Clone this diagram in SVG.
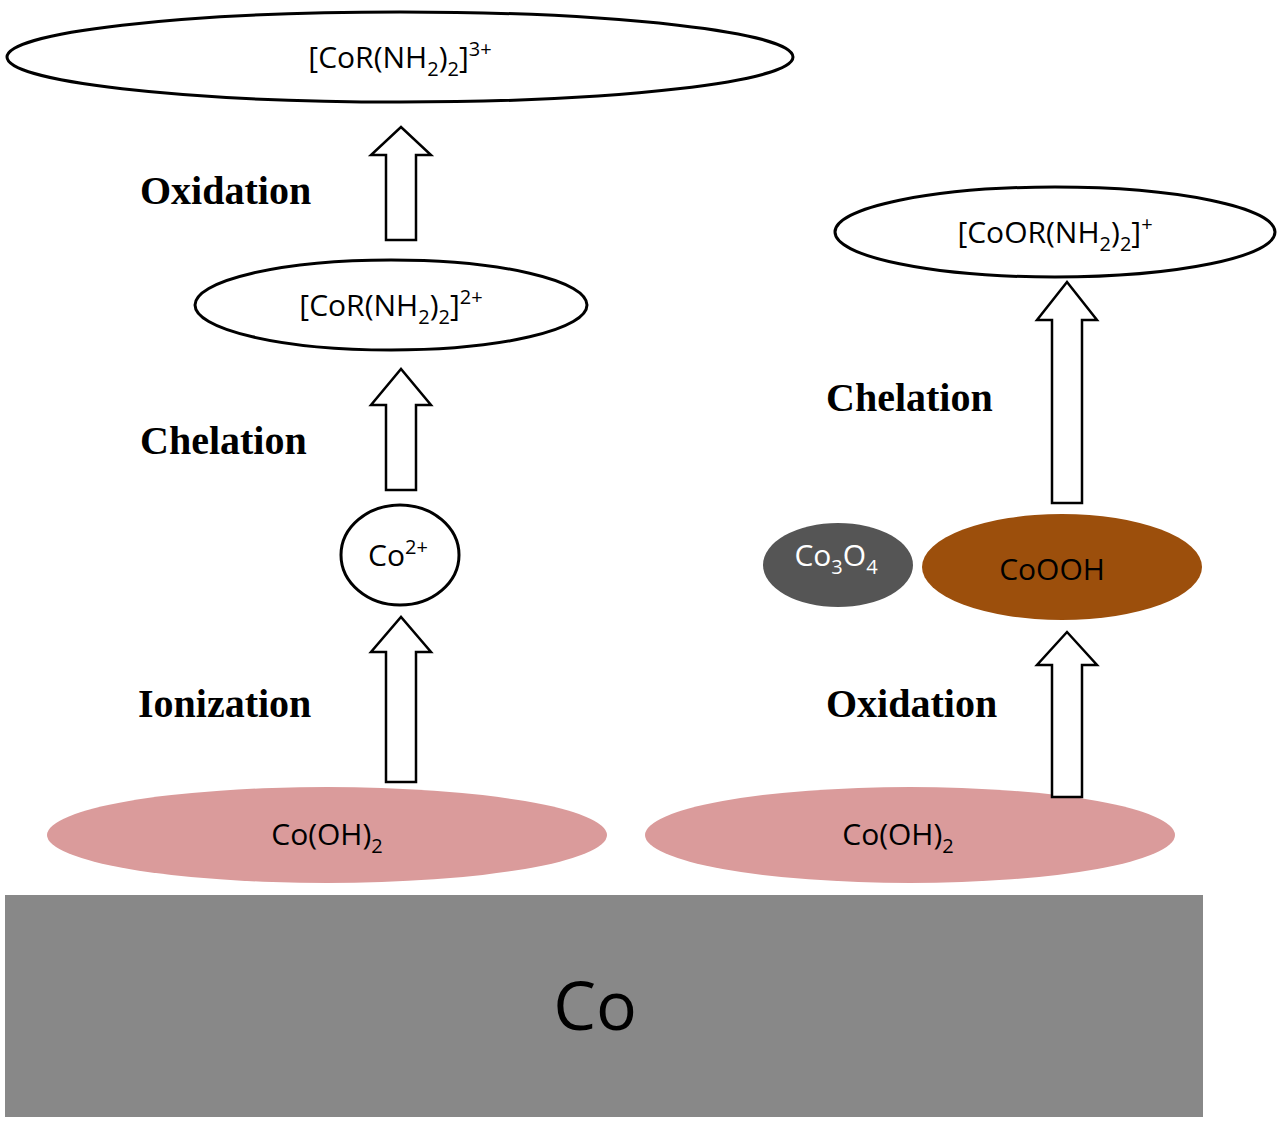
<svg xmlns="http://www.w3.org/2000/svg" width="1280" height="1121" viewBox="0 0 1280 1121">
<style>
.o{fill:#fff;stroke:#000;stroke-width:3}
.a{fill:#fff;stroke:#000;stroke-width:2.5}
.t{font-family:"Open Sans","Liberation Sans",sans-serif;font-size:30px;text-anchor:middle}
.l{font-family:"Liberation Serif",serif;font-weight:bold;font-size:40px}
</style>
<rect x="0" y="0" width="1280" height="1121" fill="#fff"/>
<g id="co"><rect x="5" y="895" width="1198" height="222" fill="#888"/><text x="595" y="1030" font-family="Open Sans,Liberation Sans,sans-serif" font-size="68" text-anchor="middle">Co</text></g>
<g id="n1"><ellipse class="o" cx="400" cy="57" rx="393" ry="45"/><text class="t" x="400" y="68">[CoR(NH<tspan font-size="20" dy="8">2</tspan><tspan dy="-8">)</tspan><tspan font-size="20" dy="8">2</tspan><tspan dy="-8">]</tspan><tspan font-size="20" dy="-12">3+</tspan></text></g>
<g id="n2"><ellipse class="o" cx="391" cy="305" rx="196" ry="45"/><text class="t" x="391" y="316">[CoR(NH<tspan font-size="20" dy="8">2</tspan><tspan dy="-8">)</tspan><tspan font-size="20" dy="8">2</tspan><tspan dy="-8">]</tspan><tspan font-size="20" dy="-12">2+</tspan></text></g>
<g id="n3"><ellipse class="o" cx="400" cy="555" rx="59" ry="50"/><text class="t" x="398" y="566">Co<tspan font-size="20" dy="-12">2+</tspan></text></g>
<g id="n4"><ellipse cx="327" cy="835" rx="280" ry="48" fill="#DA9B9B"/><text class="t" x="327" y="845">Co(OH)<tspan font-size="20" dy="8">2</tspan></text></g>
<g id="n5"><ellipse cx="910" cy="835" rx="265" ry="48" fill="#DA9B9B"/><text class="t" x="898" y="845">Co(OH)<tspan font-size="20" dy="8">2</tspan></text></g>
<g id="n6"><ellipse cx="1062" cy="567" rx="140" ry="53" fill="#9C4F0C"/><text class="t" x="1052" y="580">CoOOH</text></g>
<g id="n7"><ellipse cx="838" cy="565" rx="75" ry="42" fill="#555"/><text class="t" x="836" y="566" fill="#fff">Co<tspan font-size="20" dy="8">3</tspan><tspan dy="-8">O</tspan><tspan font-size="20" dy="8">4</tspan></text></g>
<g id="n8"><ellipse class="o" cx="1055" cy="232" rx="220" ry="45"/><text class="t" x="1055" y="243">[CoOR(NH<tspan font-size="20" dy="8">2</tspan><tspan dy="-8">)</tspan><tspan font-size="20" dy="8">2</tspan><tspan dy="-8">]</tspan><tspan font-size="20" dy="-12">+</tspan></text></g>
<g id="connectors">
<path class="a" d="M386,240V155H371L401,127L431,155H416V240Z"/>
<path class="a" d="M386,490V405H371L401,369L431,405H416V490Z"/>
<path class="a" d="M386,782V652H371L401,617L431,652H416V782Z"/>
<path class="a" d="M1052,797V665H1037L1067,632L1097,665H1082V797Z"/>
<path class="a" d="M1052,503V320H1037L1067,282L1097,320H1082V503Z"/>
</g>
<g id="labels">
<text class="l" x="140" y="204">Oxidation</text>
<text class="l" x="140" y="454">Chelation</text>
<text class="l" x="138" y="717">Ionization</text>
<text class="l" x="826" y="717">Oxidation</text>
<text class="l" x="826" y="411">Chelation</text>
</g>
</svg>
